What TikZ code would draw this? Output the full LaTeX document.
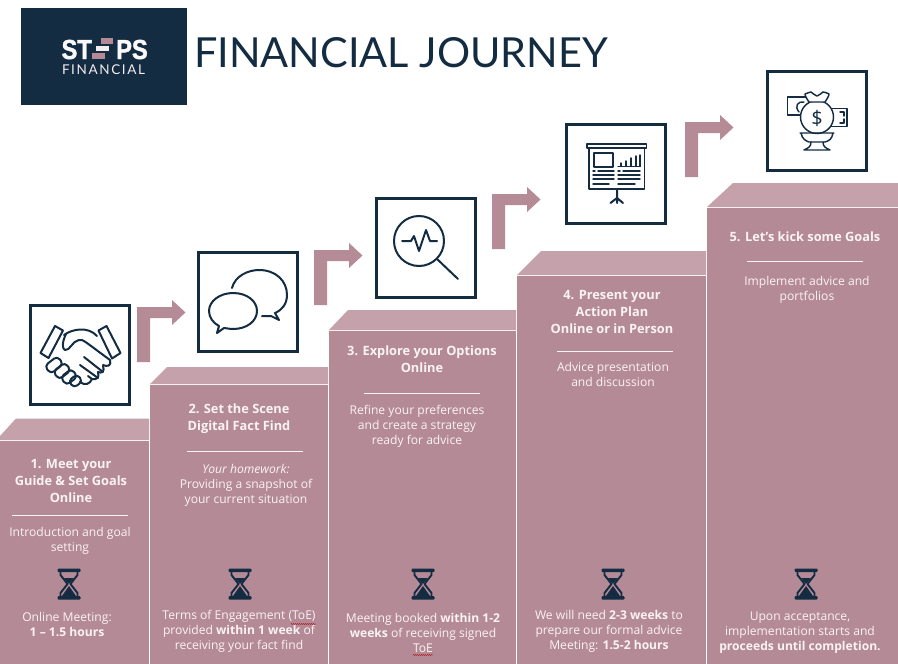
\documentclass[tikz,border=0pt]{standalone}
\usepackage{fontspec}
\setmainfont{Open Sans}
\newfontfamily\titlefont{Lato}
\newfontfamily\logofont{Liberation Sans}
\usetikzlibrary{decorations.pathmorphing}
\definecolor{navy}{HTML}{132C42}
\definecolor{front}{HTML}{B58A97}
\definecolor{topface}{HTML}{C5A1AB}
\definecolor{arrowc}{HTML}{B68B98}
\definecolor{txt}{HTML}{FAF3F5}
\tikzset{
  frontface/.style={fill=front,draw=none},
  topfacest/.style={fill=topface,draw=none},
  edge/.style={draw=white!85!topface,line width=.8pt},
  iconbox/.style={draw=navy,line width=3.1pt,fill=white,minimum size=98.5pt,inner sep=0pt},
  ink/.style={draw=navy,line width=2pt,line cap=round,line join=round},
  thinink/.style={draw=navy,line width=1.45pt,line cap=round,line join=round},
  head/.style={text=txt,font=\fontsize{12.8}{17}\selectfont\bfseries,align=center,inner sep=0pt},
  body/.style={text=txt,font=\fontsize{12.1}{15}\selectfont,align=center,inner sep=0pt},
  sepline/.style={draw=white!90!front,line width=.6pt},
  stepArrow/.style={fill=arrowc,draw=none},
  wavy/.style={draw=red!70!black,line width=.4pt,decorate,decoration={snake,amplitude=.5pt,segment length=2pt}},
  hourglass/.pic={
    \fill[navy,rounded corners=1pt] (-11.5,-15.5) rectangle (11.5,-12);
    \fill[navy,rounded corners=1pt] (-11.5,12) rectangle (11.5,15.5);
    \draw[navy,line width=1.9pt,line join=round] (-8.5,-12) -- (-8.5,-9) -- (-1.5,0) -- (-8.5,9) -- (-8.5,12);
    \draw[navy,line width=1.9pt,line join=round] (8.5,-12) -- (8.5,-9) -- (1.5,0) -- (8.5,9) -- (8.5,12);
    \fill[navy] (-5,-6) -- (5,-6) -- (0,0) -- cycle;
    \fill[navy] (0,2) -- (7,12) -- (-7,12) -- cycle;
  }
}
\newcommand{\stepblock}[5]{%
  \fill[topfacest] (#1,#4) -- (#1+#5,#3) -- (#2,#3) -- (#2,#4) -- cycle;
  \fill[frontface] (#1,#4) rectangle (#2,664);
  \draw[edge] (#1,#4) -- (#2,#4);
}
\newcommand{\bentarrow}[2]{% left, bottom
  \fill[stepArrow] (#1,#2) -- (#1,#2-55) -- (#1+35,#2-55) -- (#1+35,#2-62) -- (#1+48.5,#2-49.5) -- (#1+35,#2-37) -- (#1+35,#2-44) -- (#1+13,#2-44) -- (#1+13,#2) -- cycle;
}
\begin{document}
\begin{tikzpicture}[x=1pt,y=-1pt]
\useasboundingbox (0,0) rectangle (898,664);
\fill[white] (0,0) rectangle (898,664);

% logo
\fill[navy] (21,8) rectangle (187,105);
\node[inner sep=0pt,anchor=base east,text=white!92!topface,font=\logofont\bfseries\fontsize{27.5}{27.5}\selectfont] (logoa) at (92,59) {\addfontfeature{FakeStretch=.86,FakeBold=1.5}ST};
\node[inner sep=0pt,anchor=base west,text=white!92!topface,font=\logofont\bfseries\fontsize{27.5}{27.5}\selectfont] (logob) at (116,59) {\addfontfeature{FakeStretch=.86,FakeBold=1.5}PS};
\fill[front] (101,38) rectangle (113,44);
\fill[white!80!topface] (96,45.5) rectangle (109,51);
\fill[front] (92,53) rectangle (105,59);
\node[inner sep=0pt,text=white!80!topface,font=\titlefont\fontsize{13.5}{14}\selectfont] (logoc) at (103.5,70) {\addfontfeature{LetterSpace=12}FINANCIAL};

% title
\node[inner sep=0pt,anchor=base west,text=navy,font=\titlefont\fontsize{41.4}{43}\selectfont] (title) at (194,67) {FINANCIAL JOURNEY};

% steps
\fill[topfacest] (0,440) -- (0,436) -- (16,418.5) -- (149,418.5) -- (149,440) -- cycle;
\fill[frontface] (0,440) rectangle (149,664);
\draw[edge] (0,440) -- (149,440);
\stepblock{150}{328}{367}{384}{17}
\stepblock{329}{516}{310}{330}{19}
\stepblock{517}{706}{251}{275}{24}
\stepblock{707}{898}{183}{207}{26}

% arrows
\bentarrow{137}{362}
\bentarrow{314}{305}
\bentarrow{492}{249}
\bentarrow{685}{177}

% icon boxes
\node[iconbox] (box1) at (80,355) {};
\node[iconbox] (box2) at (248,302) {};
\node[iconbox] (box3) at (426,248) {};
\node[iconbox] (box4) at (616,174) {};
\node[iconbox] (box5) at (817,121) {};

% handshake
\draw[ink] (55,326) -- (63,330.5) -- (48.5,358) -- (40.5,353) -- cycle;
\draw[ink] (98.5,330.5) -- (106.5,326) -- (120.5,353) -- (112,358.5) -- cycle;
\draw[ink] (64,335) .. controls (72,329) and (88,326) .. (97,336);
\draw[ink] (66,334) .. controls (62,342) and (62,349) .. (65,350) .. controls (70,351) and (72,341) .. (79,340) .. controls (83,339) and (84,341) .. (110,360);
\draw[ink] (110,360) .. controls (112,366) and (107,367) .. (103,365);
\draw[ink] (84,357) -- (103,372);
\draw[ink] (103,366) .. controls (105,371) and (102,374) .. (98,372);
\draw[ink] (80,365) -- (98,378);
\draw[ink] (98,372) .. controls (100,378) and (96,380) .. (92,379) -- (88,376);
\draw[ink] (92,379) .. controls (90,384) and (85,386) .. (80,382);
\draw[ink,rounded corners=4pt,rotate around={38:(54,365)}] (46,360) rectangle (62,370);
\draw[ink,rounded corners=4pt,rotate around={38:(62,371)}] (54.5,366) rectangle (69.5,376);
\draw[ink,rounded corners=4pt,rotate around={38:(69,377)}] (62,372) rectangle (76,382);
\draw[ink,rounded corners=4pt,rotate around={38:(75.5,381)}] (70,376.5) rectangle (81,385.5);

% speech bubbles
\draw[ink] (232,288) .. controls (235,276) and (248,270) .. (259,270) .. controls (276,270) and (287,281) .. (287,295) .. controls (287,304) and (282,310) .. (275,313) -- (279,320) -- (271,316) -- (262,316);
\draw[ink] (233,293) .. controls (247,293) and (257,301) .. (257,311) .. controls (257,321) and (247,329) .. (233,329) .. controls (229,329) and (226,328) .. (224,328) -- (217,333) -- (219,326) .. controls (213,323) and (209,317) .. (209,311) .. controls (209,301) and (220,293) .. (233,293) -- cycle;

% magnifier
\draw[ink] (419,241) circle (25);
\draw[ink] (437,259) -- (458,279);
\draw[ink] (402,241) -- (411,241) -- (414,236) -- (419,251) -- (426,230) -- (430,241) -- (437,241);

% presentation
\draw[thinink] (587,144) rectangle (646.5,148);
\draw[thinink] (589,148) -- (589,189) -- (644.5,189) -- (644.5,148);
\draw[thinink] (594,153) rectangle (613,167);
\draw[thinink] (618,166.5) -- (640,166.5);
\foreach \xx/\yy in {621/163,626/161,631/158,636/156,640/155}{\draw[thinink] (\xx,166.5) -- (\xx,\yy);}
\draw[thinink] (593,171) -- (595,171) (598,171) -- (614,171) (593,175) -- (614,175) (593,179) -- (614,179) (593,184) -- (609,184);
\draw[thinink] (618,171) -- (620,171) (623,171) -- (640,171) (618,175) -- (640,175) (618,179) -- (640,179) (618,184) -- (635,184);
\draw[ink] (617,189) -- (617,198) (610.5,203) -- (617,198) -- (623,203) (617,198) -- (617,203);

% money bag
\draw[thinink] (801,115) -- (787.5,115) -- (787.5,97) -- (806,97);
\draw[thinink] (804,102) .. controls (798,101) and (794,106) .. (799,112);
\draw[thinink] (832,108.5) -- (847,108.5) -- (847,126.5) -- (831,126.5);
\draw[thinink] (840,112) -- (844,112) -- (844,116) (840,123) -- (844,123) -- (844,119);
\draw[thinink,fill=white] (817,117) circle (16.5);
\draw[thinink,fill=white] (809,102) .. controls (807,99) and (805,96) .. (805,94) .. controls (808,93) and (810,92) .. (811,92) .. controls (813,94) and (815,95) .. (817,96) .. controls (819,95) and (821,94) .. (823,92) .. controls (825,92) and (827,93) .. (829,94) .. controls (829,96) and (827,99) .. (825,102) -- cycle;
\node[inner sep=0pt,text=navy,font=\fontsize{20}{20}\selectfont] (dollar) at (817,118) {\$};
\draw[thinink] (800,133) -- (834,133) (801,133) .. controls (802,139) and (806,141) .. (809,142) -- (825,142) .. controls (829,141) and (832,139) .. (833,133);
\draw[thinink] (811,142) .. controls (811,147) and (808,148) .. (804,150) -- (830,150) .. controls (826,148) and (823,147) .. (823,142);

% step 1 text
\node[head] (h1) at (71,481) {1. Meet your\\Guide \& Set Goals\\Online};
\draw[sepline] (12,515) -- (128,515);
\node[body] (b1) at (70,541) {Introduction and goal\\setting};
\pic at (69,584) {hourglass};
\node[body] (t1) at (67,624.5) {Online Meeting:\\\textbf{1 – 1.5 hours}};

% step 2 text
\node[head] (h2) at (239,418.5) {2. Set the Scene\\Digital Fact Find};
\draw[sepline] (187,451) -- (303,451);
\node[body] (b2) at (246,485) {\textit{Your homework:}\\Providing a snapshot of\\your current situation};
\pic at (240,584) {hourglass};
\node[body] (t2) at (239,631.5) {Terms of Engagement (ToE)\\provided \textbf{within 1 week} of\\receiving your fact find};
\draw[wavy] (291,624) -- (316,624);

% step 3 text
\node[head] (h3) at (422,359.5) {3. Explore your Options\\Online};
\draw[sepline] (364,393) -- (480,393);
\node[body] (b3) at (417,426) {Refine your preferences\\and create a strategy\\ready for advice};
\pic at (423,584) {hourglass};
\node[body] (t3) at (423,632.5) {Meeting booked \textbf{within 1-2}\\\textbf{weeks} of receiving signed\\ToE};
\draw[wavy] (413,655) -- (433,655);

% step 4 text
\node[head] (h4) at (612,312) {4. Present your\\Action Plan\\Online or in Person};
\draw[sepline] (557,351) -- (673,351);
\node[body] (b4) at (613,374) {Advice presentation\\and discussion};
\pic at (613,584) {hourglass};
\node[body] (t4) at (609,631.5) {We will need \textbf{2-3 weeks} to\\prepare our formal advice\\Meeting: \textbf{1.5-2 hours}};

% step 5 text
\node[head] (h5) at (805,237) {5. Let's kick some Goals};
\draw[sepline] (747,261) -- (863,261);
\node[body] (b5) at (807,289.5) {Implement advice and\\portfolios};
\pic at (806,584) {hourglass};
\node[body] (t5) at (800,633) {Upon acceptance,\\implementation starts and\\\textbf{proceeds until completion.}};
\end{tikzpicture}
\end{document}
